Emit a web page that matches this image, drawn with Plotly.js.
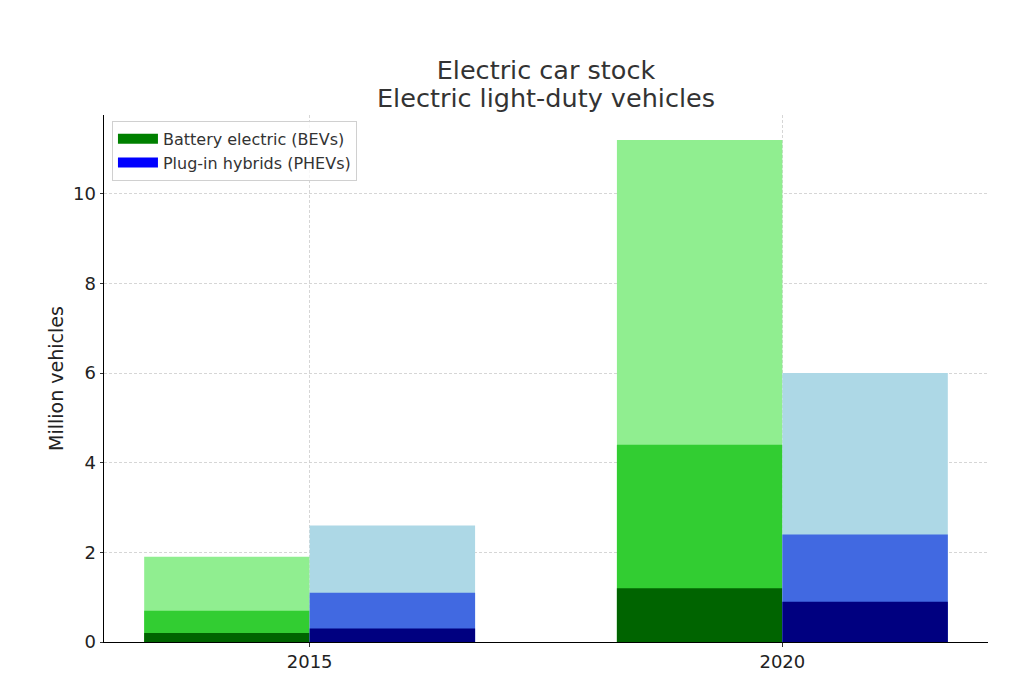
<!DOCTYPE html>
<html>
<head>
<meta charset="utf-8">
<script src="https://cdn.plot.ly/plotly-3.0.1.min.js"></script>
<style>html,body{margin:0;padding:0;background:#fff;}#chart{width:1028px;height:680px;}</style>
</head>
<body>
<div id="chart"></div>
<script>
const years = ["2015", "2020"];
const yearPos = [0, 1];
// BEV layers (drawn overlapping, tallest first)
const bevTop = [1.9, 11.2];
const bevMid = [0.7, 4.4];
const bevBase = [0.2, 1.2];
// PHEV layers
const phevTop = [2.6, 6.0];
const phevMid = [1.1, 2.4];
const phevBase = [0.3, 0.9];
const legendNames = ["Battery electric (BEVs)", "Plug-in hybrids (PHEVs)"];
const legendColors = ["#008000", "#0000FF"];
const titleLines = ["Electric car stock", "Electric light-duty vehicles"];

const W = 0.35;
function bar(y, color, offset) {
  return {type: "bar", x: yearPos, y: y, width: W, offset: offset,
    marker: {color: color, line: {width: 0}}, showlegend: false, hoverinfo: "y"};
}
const traces = [
  bar(bevTop, "#90EE90", -W), bar(bevMid, "#32CD32", -W), bar(bevBase, "#006400", -W),
  bar(phevTop, "#ADD8E6", 0), bar(phevMid, "#4169E1", 0), bar(phevBase, "#000080", 0),
  {type: "scatter", mode: "lines", x: [null], y: [null], name: legendNames[0],
   line: {color: legendColors[0], width: 10}},
  {type: "scatter", mode: "lines", x: [null], y: [null], name: legendNames[1],
   line: {color: legendColors[1], width: 10}}
];
const gridDash = "3px,2px";
const layout = {
  width: 1028, height: 680,
  margin: {l: 104, r: 40, t: 115, b: 38},
  paper_bgcolor: "#fff", plot_bgcolor: "#fff",
  font: {family: "DejaVu Sans, sans-serif", color: "#222"},
  barmode: "overlay",
  title: {text: titleLines[0],
    font: {size: 25.5, color: "#333"}, x: 0.5, xref: "paper", y: 1 - 79/680, yref: "container", yanchor: "bottom", pad: {b: 0}},
  annotations: [{text: titleLines[1], xref: "paper", yref: "paper", x: 0.5, y: (642 - 103) / 527,
    xanchor: "center", yanchor: "bottom", yshift: -12, showarrow: false, font: {size: 25.5, color: "#333"}}],
  xaxis: {range: [-0.435, 1.435], tickvals: yearPos, ticktext: years,
    showgrid: true, gridcolor: "#cccccc", griddash: gridDash, gridwidth: 0.8,
    showline: true, linecolor: "#000", linewidth: 1,
    ticks: "outside", ticklen: 3.5, tickcolor: "#000", tickwidth: 0.8,
    tickfont: {size: 18, color: "#222"}, zeroline: false, fixedrange: true},
  yaxis: {range: [0, 11.76], tickvals: [0, 2, 4, 6, 8, 10],
    showgrid: true, gridcolor: "#cccccc", griddash: gridDash, gridwidth: 0.8,
    showline: true, linecolor: "#000", linewidth: 1,
    ticks: "outside", ticklen: 3.5, tickcolor: "#000", tickwidth: 0.8,
    tickfont: {size: 18, color: "#222"}, zeroline: false,
    title: {text: "Million vehicles", font: {size: 19, color: "#222"}, standoff: 4}},
  legend: {x: 0.009, y: 0.989, xanchor: "left", yanchor: "top",
    bgcolor: "rgba(255,255,255,0.8)", bordercolor: "#d0d0d0", borderwidth: 1,
    font: {size: 16, color: "#333"}, itemwidth: 40, tracegroupgap: 0},
  showlegend: true
};
Plotly.newPlot("chart", traces, layout, {displayModeBar: false, staticPlot: true});
</script>
</body>
</html>
